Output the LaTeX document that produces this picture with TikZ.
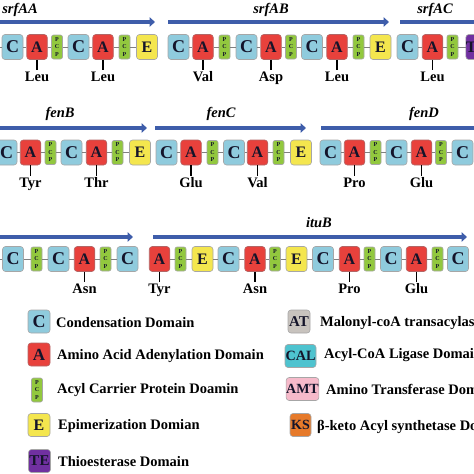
\documentclass[tikz,border=0pt]{standalone}
\usepackage{fontspec}
\setmainfont{Liberation Serif}
\usetikzlibrary{arrows.meta}
\definecolor{cblue}{HTML}{8FCBDD}
\definecolor{ared}{HTML}{E8413C}
\definecolor{pgreen}{HTML}{92C83E}
\definecolor{eyellow}{HTML}{F4E64E}
\definecolor{tepurple}{HTML}{7030A0}
\definecolor{atgray}{HTML}{C8C3BE}
\definecolor{calteal}{HTML}{4EC3CF}
\definecolor{amtpink}{HTML}{F6BACA}
\definecolor{ksorange}{HTML}{E67A2A}
\definecolor{ablue}{HTML}{3E5DAA}
\definecolor{ink}{HTML}{14142A}
\newcommand\dmC{C}
\newcommand\dmA{A}
\newcommand\dmP{P\\C\\P}
\newcommand\dmE{E}
\newcommand\dmT{TE}
\begin{document}
\begin{tikzpicture}[x=1pt,y=-1pt,
  dom/.style={draw=black!35, line width=0.6pt, rounded corners=3pt, inner sep=0pt,
    minimum height=25pt, text=ink, font=\bfseries\fontsize{16}{16}\selectfont},
  boxC/.style={dom, fill=cblue, minimum width=21pt, font=\bfseries\fontsize{18}{18}\selectfont},
  boxA/.style={dom, fill=ared, draw=red!50!black!60, minimum width=20.5pt},
  boxP/.style={dom, fill=pgreen, minimum width=11pt, minimum height=24pt, rounded corners=2pt,
    align=center, font=\bfseries\fontsize{6}{7.5}\selectfont},
  boxE/.style={dom, fill=eyellow, minimum width=21pt},
  boxT/.style={dom, fill=tepurple, minimum width=21pt},
  conn/.style={draw=black!50, line width=1pt},
  tick/.style={draw=black, line width=1.3pt, shorten >=1pt},
  aa/.style={anchor=north, inner sep=0pt, text height=10pt, text depth=0pt,
    font=\bfseries\fontsize{14.5}{14.5}\selectfont},
  gene/.style={inner sep=0pt, font=\bfseries\itshape\fontsize{14.5}{14.5}\selectfont},
  garrow/.style={draw=ablue, line width=3.6pt, -{Triangle[length=5.5pt,width=9.5pt]}},
  gline/.style={draw=ablue, line width=3.6pt},
  legbox/.style={dom, minimum height=23pt, minimum width=22pt, font=\bfseries\fontsize{15}{15}\selectfont},
  legtxt/.style={anchor=west, inner sep=0pt, font=\bfseries\fontsize{14.5}{14.5}\selectfont}
]
\useasboundingbox (0,0) rectangle (474,474);
\clip (0,0) rectangle (474,474);

% ---------- Row 1 ----------
\coordinate (a1s) at (0,22);   \coordinate (a1e) at (155,22);
\coordinate (a2s) at (168,22); \coordinate (a2e) at (389,22);
\coordinate (a3s) at (400,22); \coordinate (a3e) at (480,22);
\draw[garrow] (a1s) -- (a1e);
\draw[garrow] (a2s) -- (a2e);
\draw[gline] (a3s) -- (a3e);
\node[gene] (g1) at (20,10) {srfAA};
\node[gene] (g2) at (271,10) {srfAB};
\node[gene] (g3) at (435,10) {srfAC};

\foreach \t/\x [count=\i] in {C/12.5,A/37,P/57,C/78.5,A/103,P/124.5,E/147,
  C/178.5,A/203,P/224.5,C/246.5,A/271,P/291,C/312,A/337,P/358.5,E/380.5,
  C/407.5,A/432.5,P/452.5,T/476.5}
  \node[box\t] (r1-\i) at (\x,47) {\csname dm\t\endcsname};
\coordinate (r1start) at (0,47);
\draw[conn] (r1start) -- (r1-1.west);
\foreach \i in {1,...,6,8,9,...,16,18,19,20}{
  \pgfmathtruncatemacro\j{\i+1}
  \draw[conn] (r1-\i.east) -- (r1-\j.west);
}
\foreach \n/\l in {2/Leu,5/Leu,9/Val,12/Asp,15/Leu,19/Leu}{
  \node[aa] (r1l\n) at (r1-\n.south |- 0,71) {\l};
  \draw[tick] (r1-\n.south) -- (r1l\n.north);
}

% ---------- Row 2 ----------
\coordinate (b1s) at (0,128);   \coordinate (b1e) at (147,128);
\coordinate (b2s) at (155,128); \coordinate (b2e) at (306,128);
\coordinate (b3s) at (321,128); \coordinate (b3e) at (480,128);
\draw[garrow] (b1s) -- (b1e);
\draw[garrow] (b2s) -- (b2e);
\draw[gline] (b3s) -- (b3e);
\node[gene] (g4) at (60,114) {fenB};
\node[gene] (g5) at (221,114) {fenC};
\node[gene] (g6) at (424,114) {fenD};

\foreach \t/\x [count=\i] in {C/6.5,A/30.5,P/50.5,C/71.5,A/96.5,P/117.5,E/140,
  C/166.5,A/191,P/212.5,C/234,A/257.5,P/278.5,E/301,
  C/330.5,A/354.5,P/375.5,C/396.5,A/421.5,P/441,C/462.5}
  \node[box\t] (r2-\i) at (\x,152.5) {\csname dm\t\endcsname};
\foreach \i in {1,...,6,8,9,...,13,15,16,...,20}{
  \pgfmathtruncatemacro\j{\i+1}
  \draw[conn] (r2-\i.east) -- (r2-\j.west);
}
\foreach \n/\l in {2/Tyr,5/Thr,9/Glu,12/Val,16/Pro,19/Glu}{
  \node[aa] (r2l\n) at (r2-\n.south |- 0,177) {\l};
  \draw[tick] (r2-\n.south) -- (r2l\n.north);
}

% ---------- Row 3 ----------
\coordinate (c1s) at (0,237);   \coordinate (c1e) at (133,237);
\coordinate (c2s) at (153,237); \coordinate (c2e) at (467,237);
\draw[garrow] (c1s) -- (c1e);
\draw[garrow] (c2s) -- (c2e);
\node[gene] (g7) at (319,223) {ituB};

\foreach \t/\x [count=\i] in {C/13,P/36.5,C/58.5,A/84.5,P/105.5,C/127.5,
  A/159.5,P/180.5,E/202.5,C/228.5,A/255,P/275,E/296.5,C/323,A/349.5,P/369.5,
  C/391,A/416.5,P/437.5,C/458}
  \node[box\t] (r3-\i) at (\x,259) {\csname dm\t\endcsname};
\coordinate (r3start) at (0,259);
\draw[conn] (r3start) -- (r3-1.west);
\foreach \i in {1,...,5,7,8,...,19}{
  \pgfmathtruncatemacro\j{\i+1}
  \draw[conn] (r3-\i.east) -- (r3-\j.west);
}
\foreach \n/\l in {4/Asn,7/Tyr,11/Asn,15/Pro,18/Glu}{
  \node[aa] (r3l\n) at (r3-\n.south |- 0,283) {\l};
  \draw[tick] (r3-\n.south) -- (r3l\n.north);
}

% ---------- Legend ----------
\node[legbox, fill=cblue, font=\bfseries\fontsize{18}{18}\selectfont] (lc) at (39,321.5) {C};
\node[legbox, fill=ared, draw=red!50!black!60, font=\bfseries\fontsize{17}{17}\selectfont] (la) at (39,354.5) {A};
\node[boxP] (lp) at (37,390) {P\\C\\P};
\node[legbox, fill=eyellow, font=\bfseries\fontsize{16}{16}\selectfont] (le) at (39,425) {E};
\node[legbox, fill=tepurple] (lt) at (39.5,461) {TE};
\node[legtxt] (tc) at (56,323) {Condensation Domain};
\node[legtxt] (ta) at (57,356) {Amino Acid Adenylation Domain};
\node[legtxt] (tp) at (57,390) {Acyl Carrier Protein Doamin};
\node[legtxt] (te) at (58,426) {Epimerization Domian};
\node[legtxt] (tt) at (58,462) {Thioesterase Domain};

\node[legbox, fill=atgray] (lat) at (299,321.5) {AT};
\node[legbox, fill=calteal, minimum width=31pt, font=\bfseries\fontsize{14.2}{14.2}\selectfont] (lcal) at (300.5,356) {CAL};
\node[legbox, fill=amtpink, minimum width=32pt, font=\bfseries\fontsize{14}{14}\selectfont] (lamt) at (302.5,389) {AMT};
\node[legbox, fill=ksorange, minimum width=21pt, font=\bfseries\fontsize{14}{14}\selectfont] (lks) at (300.5,425) {KS};
\node[legtxt] (tat) at (320,323) {Malonyl-coA transacylase Domain};
\node[legtxt] (tcal) at (324,355) {Acyl-CoA Ligase Domain};
\node[legtxt] (tamt) at (326,389) {Amino Transferase Domain};
\node[legtxt] (tks) at (317,427) {β-keto Acyl synthetase Domain};
\end{tikzpicture}
\end{document}
